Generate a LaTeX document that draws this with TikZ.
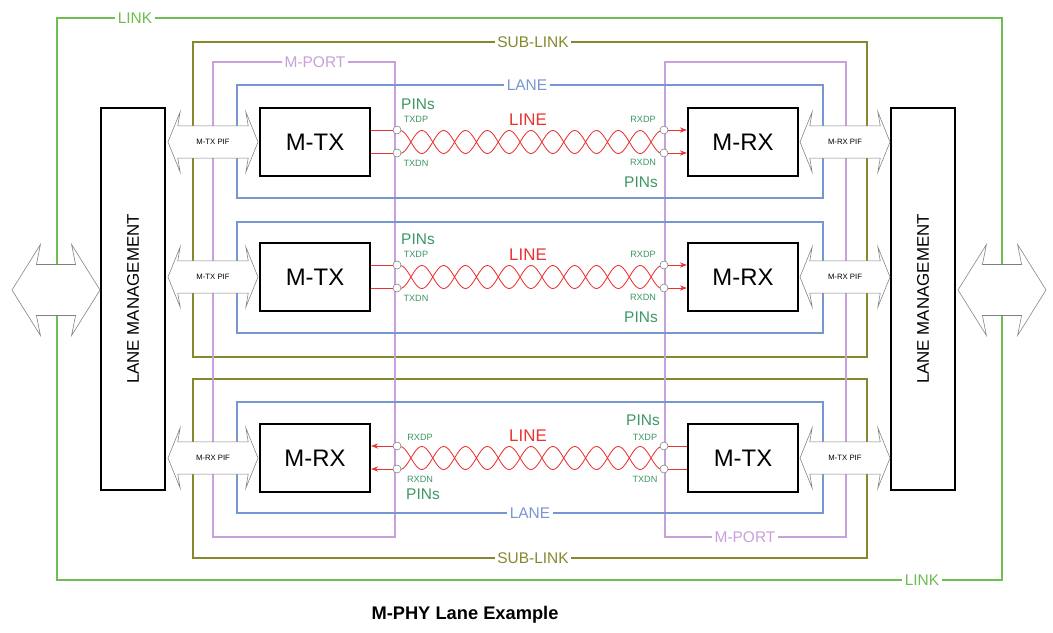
\documentclass[tikz,border=0pt]{standalone}
\usepackage{fontspec}
\setmainfont{Liberation Sans}
\usetikzlibrary{shapes.arrows,arrows.meta}

\definecolor{linkc}{RGB}{110,190,80}
\definecolor{subc}{RGB}{135,135,45}
\definecolor{portc}{RGB}{200,160,220}
\definecolor{lanec}{RGB}{120,150,210}
\definecolor{pinc}{RGB}{60,150,100}
\definecolor{linec}{RGB}{235,50,50}

\tikzset{
  blk/.style = {rectangle, draw = black, line width = 1.6pt, fill = white,
      minimum width = 2.75cm, minimum height = 1.7cm, font = \fontsize{17}{17}\selectfont},
  mgmt/.style = {rectangle, draw = black, line width = 1.6pt, fill = white,
      minimum width = 1.6cm, minimum height = 9.55cm, font = \fontsize{12}{12}\selectfont},
  pif/.style = {double arrow, draw = gray, fill = white,
      minimum height = 2.25cm, inner xsep = 0pt, inner ysep = 0.33cm,
      double arrow head extend = 0.35cm, double arrow tip angle = 136,
      double arrow head indent = 0.06cm,
      font = \fontsize{5.5}{5.5}\selectfont},
  outer/.style = {pif, minimum height = 2.2cm, inner ysep = 0.63cm,
      double arrow head extend = 0.5cm, double arrow tip angle = 116,
      double arrow head indent = 0.1cm},
  pin/.style = {circle, draw = gray, fill = white, inner sep = 0pt, minimum size = 0.2cm},
  tag/.style = {fill = white, inner sep = 2pt, font = \fontsize{11}{11}\selectfont},
  pinlbl/.style = {text = pinc, inner sep = 0pt, font = \fontsize{6.5}{6.5}\selectfont},
  pinhead/.style = {text = pinc, inner sep = 0pt, font = \fontsize{11}{11}\selectfont},
  linelbl/.style = {text = linec, inner sep = 0pt, font = \fontsize{12}{12}\selectfont},
  wire/.style = {linec, line width = 0.6pt},
}

\begin{document}
\begin{tikzpicture}[x=0.025cm, y=-0.025cm]
\useasboundingbox (0,0) rectangle (1053,632);

% link, sub-links, ports, lanes
\draw[linkc, line width = 1pt] (57,18) rectangle (1002,580);
\node[tag, text = linkc] (linktop) at (135,18) {LINK};
\node[tag, text = linkc] (linkbot) at (922,580) {LINK};

\draw[subc, line width = 1pt] (193,42) rectangle (867,357);
\draw[subc, line width = 1pt] (193,379) rectangle (867,558);
\node[tag, text = subc] (subtop) at (533,42) {SUB-LINK};
\node[tag, text = subc] (subbot) at (533,558) {SUB-LINK};

\draw[portc, line width = 1pt] (213,62) rectangle (395,537);
\draw[portc, line width = 1pt] (665,62) rectangle (846,537);
\node[tag, text = portc] (porttop) at (315,62) {M-PORT};
\node[tag, text = portc] (portbot) at (745,537) {M-PORT};

\draw[lanec, line width = 1pt] (237,85) rectangle (823,198);
\draw[lanec, line width = 1pt] (237,222) rectangle (823,333);
\draw[lanec, line width = 1pt] (237,402) rectangle (823,513);
\node[tag, text = lanec] (lanetop) at (527,85) {LANE};
\node[tag, text = lanec] (lanebot) at (530,513) {LANE};

% lane management
\node[mgmt] (mgl) at (133,299) {\rotatebox{90}{LANE MANAGEMENT}};
\node[mgmt] (mgr) at (923,299) {\rotatebox{90}{LANE MANAGEMENT}};
\node[outer] (exl) at (56,290) {};
\node[outer] (exr) at (1002,290) {};

% two lanes from left to right
\foreach \r/\c in {1/142, 2/277} {
  \node[blk] (tx\r) at (315,\c) {M-TX};
  \node[blk] (rx\r) at (743,\c) {M-RX};
  \node[pif] (pl\r) at (213,\c) {M-TX PIF};
  \node[pif] (pr\r) at (845,\c) {M-RX PIF};
  \draw[wire, domain = 0:262, samples = 160, smooth]
    plot ({400+\x}, {\c - 11.5*cos(\x*8.2444)})
    plot ({400+\x}, {\c + 11.5*cos(\x*8.2444)});
  \node[pin] (ta\r) at (397,\c-12) {};
  \node[pin] (tb\r) at (397,\c+11) {};
  \node[pin] (ra\r) at (664,\c-12) {};
  \node[pin] (rb\r) at (664,\c+11) {};
  \draw[wire] (tx\r.east |- ta\r) -- (ta\r);
  \draw[wire] (tx\r.east |- tb\r) -- (tb\r);
  \draw[wire, -{Stealth[length=5pt]}] (ra\r) -- (rx\r.west |- ra\r);
  \draw[wire, -{Stealth[length=5pt]}] (rb\r) -- (rx\r.west |- rb\r);
  \node[pinhead] (ph\r) at (418,\c-38) {PINs};
  \node[pinlbl] (tp\r) at (416,\c-23) {TXDP};
  \node[pinlbl] (tn\r) at (416,\c+21) {TXDN};
  \node[pinlbl] (rp\r) at (643,\c-23) {RXDP};
  \node[pinlbl] (rn\r) at (643,\c+20) {RXDN};
  \node[pinhead] (qh\r) at (641,\c+40) {PINs};
  \node[linelbl] (ln\r) at (528,\c-22) {LINE};
}

% lane from right to left
\node[blk] (rx3) at (315,458) {M-RX};
\node[blk] (tx3) at (743,458) {M-TX};
\node[pif] (pl3) at (213,458) {M-RX PIF};
\node[pif] (pr3) at (845,458) {M-TX PIF};
\draw[wire, domain = 0:262, samples = 160, smooth]
  plot ({400+\x}, {458 - 11.5*cos(\x*8.2444)})
  plot ({400+\x}, {458 + 11.5*cos(\x*8.2444)});
\node[pin] (ra3) at (397,446) {};
\node[pin] (rb3) at (397,469) {};
\node[pin] (ta3) at (664,446) {};
\node[pin] (tb3) at (664,469) {};
\draw[wire, -{Stealth[length=5pt]}] (ra3) -- (rx3.east |- ra3);
\draw[wire, -{Stealth[length=5pt]}] (rb3) -- (rx3.east |- rb3);
\draw[wire] (tx3.west |- ta3) -- (ta3);
\draw[wire] (tx3.west |- tb3) -- (tb3);
\node[pinlbl] (rp3) at (420,437) {RXDP};
\node[pinlbl] (rn3) at (420,479) {RXDN};
\node[pinhead] (ph3) at (423,494) {PINs};
\node[pinhead] (qh3) at (643,420) {PINs};
\node[pinlbl] (tp3) at (645,437) {TXDP};
\node[pinlbl] (tn3) at (645,479) {TXDN};
\node[linelbl] (ln3) at (528,436) {LINE};

\node[font = \fontsize{13}{13}\selectfont\bfseries] (cap) at (465,615) {M-PHY Lane Example};
\end{tikzpicture}
\end{document}
